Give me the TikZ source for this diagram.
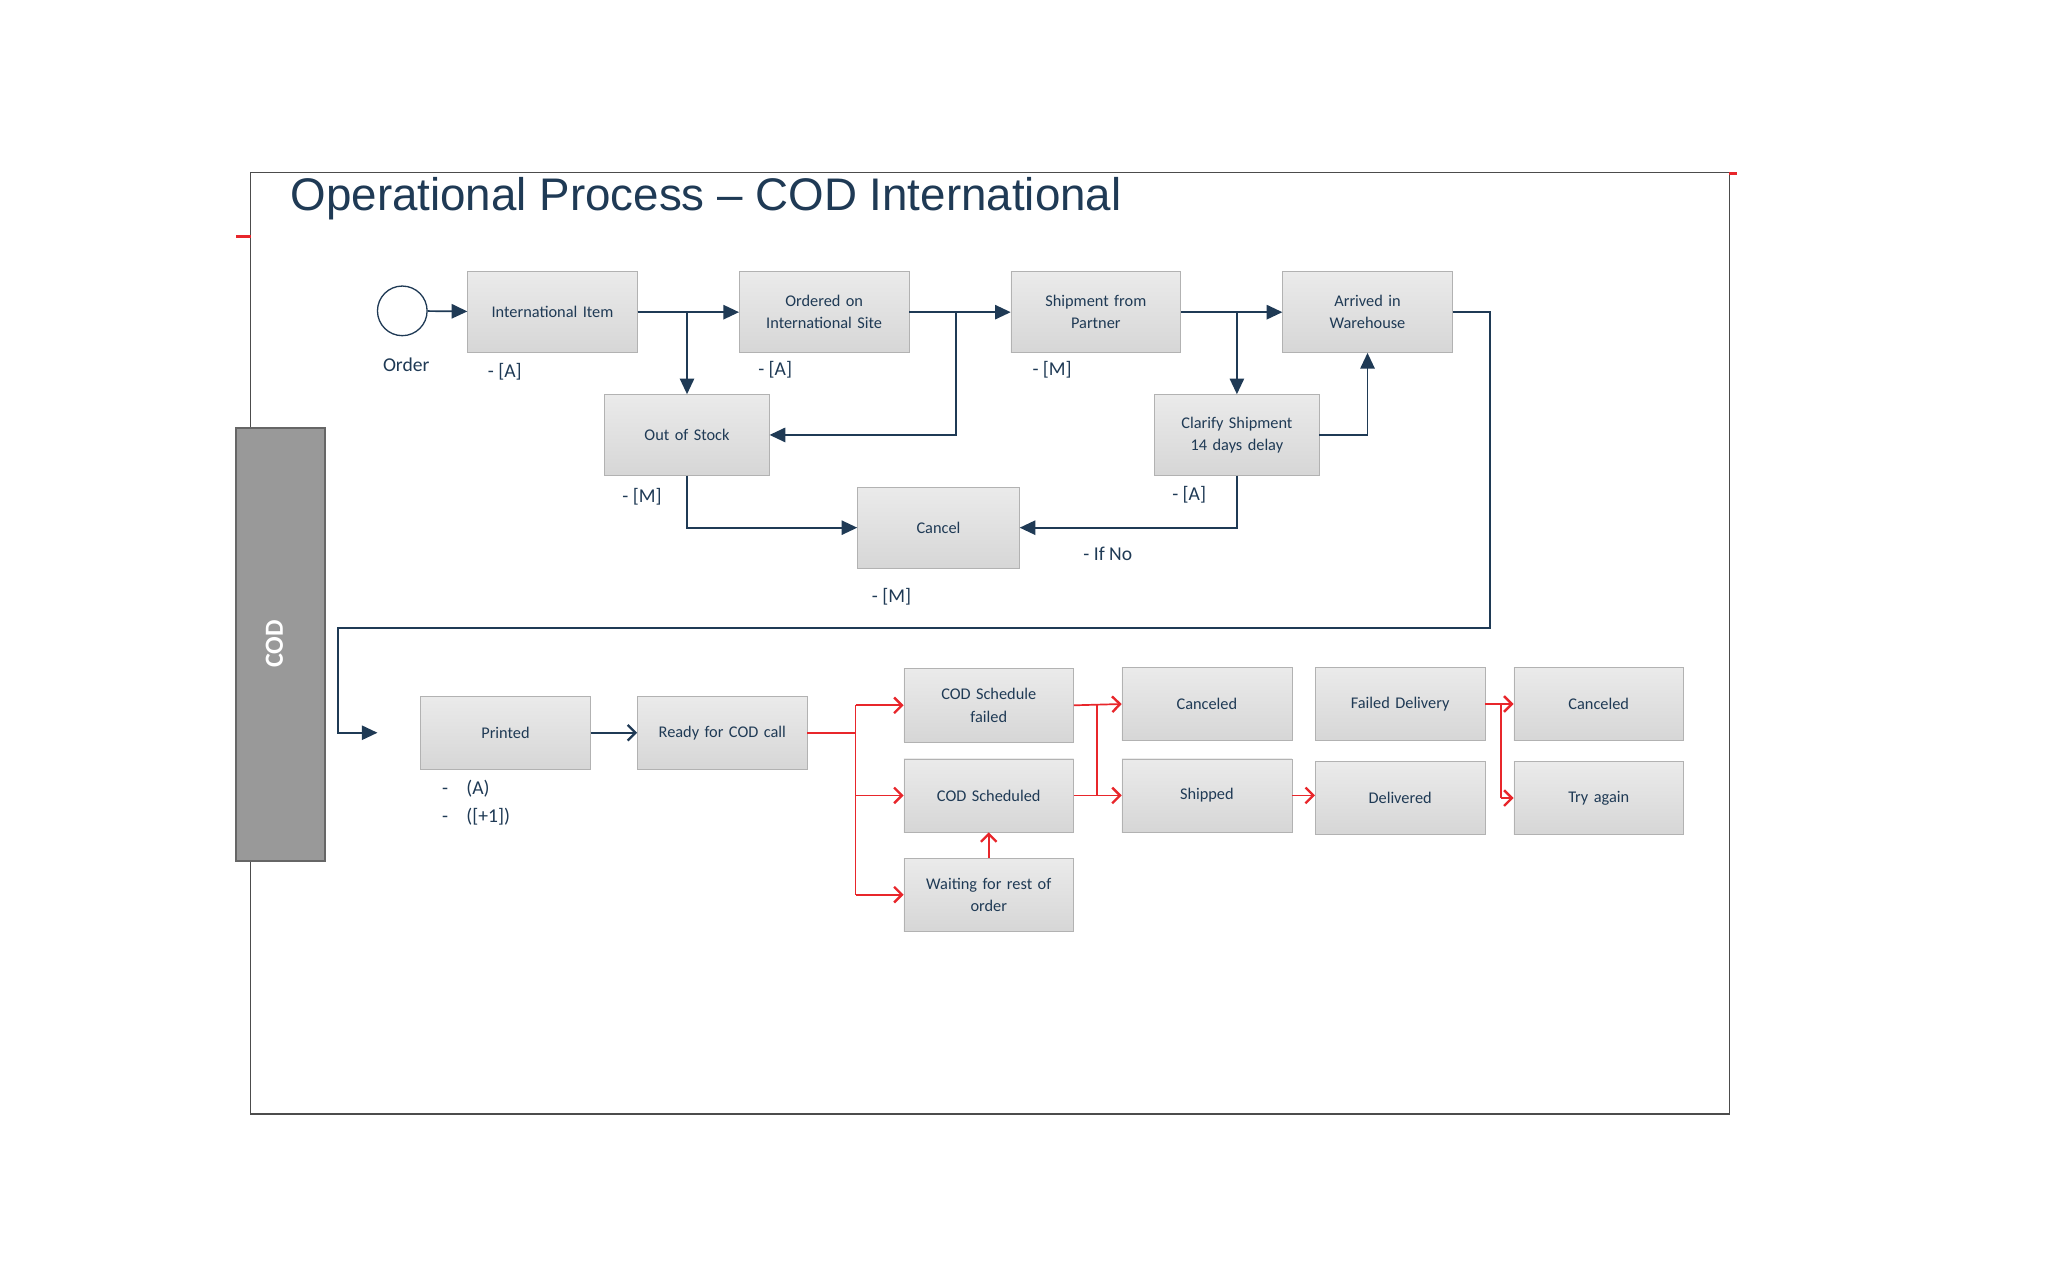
\documentclass[tikz,border=0pt]{standalone}
\usepackage{fontspec}
\setmainfont{Carlito}
\newfontfamily\titlefont{Liberation Sans}
\usetikzlibrary{arrows.meta}
\definecolor{navy}{HTML}{1F3A55}
\definecolor{rd}{HTML}{E8262B}
\begin{document}
\begin{tikzpicture}[x=1pt,y=-1pt,
 box/.style={draw=black!30,top color=black!8,bottom color=black!16,minimum width=130pt,minimum height=#1,inner sep=2pt,align=center,text=navy,font=\fontsize{12.5}{17}\selectfont,text width=120pt},
 box/.default=62pt,
 lbl/.style={text=navy,font=\fontsize{15}{17}\selectfont,anchor=west},
 nv/.style={draw=navy,line width=1.3pt,-{Triangle[length=12pt,width=11pt]}},
 rr/.style={draw=rd,line width=1.3pt,-{Straight Barb[length=6pt,width=12pt,line width=1.8pt]}},
 rl/.style={draw=rd,line width=1.3pt}]
\useasboundingbox (0,0) rectangle (1568,980);
\fill[white] (0,0) rectangle (1568,980);
\draw[black!70,line width=1pt] (192,132) rectangle (1324,853);
\draw[rd,line width=2pt] (181,181) -- (192,181);
\draw[rd,line width=2pt] (1324,133) -- (1330,133);
\node[anchor=west,text=navy,font=\titlefont\fontsize{35}{40}\selectfont] (title) at (219,152) {Operational Process \textendash{} COD International};
\node[draw=black!60,line width=1.5pt,fill=black!40,minimum width=68pt,minimum height=331pt] (cod) at (215,493.5) {};
\node[rotate=90,text=white,font=\bfseries\fontsize{20}{20}\selectfont] (codt) at (210,493) {COD};
% top
\node[draw=navy,line width=1pt,circle,minimum size=38pt,inner sep=0] (start) at (308,238) {};
\node[lbl,anchor=center] (ordl) at (311,279) {Order};
\node[box] (ii) at (423,239) {International Item};
\node[box] (os) at (631,239) {Ordered on\\International Site};
\node[box] (sp) at (839,239) {Shipment from\\Partner};
\node[box] (aw) at (1047,239) {Arrived in\\Warehouse};
\node[box,minimum width=126pt] (oos) at (526,333) {Out of Stock};
\node[box,minimum width=126pt] (cs) at (947,333) {Clarify Shipment\\14 days delay};
\node[box,minimum width=123pt] (can) at (718.5,404) {Cancel};
\node[lbl] (l1) at (370,285) {- [A]};
\node[lbl] (l2) at (577,283) {- [A]};
\node[lbl] (l3) at (787,283) {- [M]};
\node[lbl] (l4) at (473,380) {- [M]};
\node[lbl] (l5) at (894,379) {- [A]};
\node[lbl] (l6) at (826,424) {- If No};
\node[lbl] (l7) at (664,457) {- [M]};
\draw[nv] (start) -- (ii);
\draw[nv] (ii.east) -- (os.west);
\draw[nv] (ii.east) -| (oos.north);
\draw[nv] (os.east) -- (sp.west);
\draw[nv] (732,239) |- (oos.east);
\draw[nv] (sp.east) -- (aw.west);
\draw[nv] (sp.east) -| (cs.north);
\draw[nv] (cs.east) -| (aw.south);
\draw[nv] (oos.south) |- (can.west);
\draw[nv] (cs.south) |- (can.east);
\coordinate (pin) at (289,561);
\draw[nv] (aw.east) -- (1141,239) -- (1141,481) -- (259,481) -- (259,561) -- (pin);
% bottom
\node[box=56pt] (pr) at (387,561) {Printed};
\node[box=56pt] (rc) at (553,561) {Ready for COD call};
\node[box=56pt] (cf) at (757,540) {COD Schedule\\failed};
\node[box=56pt] (cd) at (757,609) {COD Scheduled};
\node[box=56pt] (wr) at (757,685) {Waiting for rest of\\order};
\node[box=56pt] (c1) at (924,539) {Canceled};
\node[box=56pt] (sh) at (924,609) {Shipped};
\node[box=56pt] (fd) at (1072,539) {Failed Delivery};
\node[box=56pt] (dl) at (1072,611) {Delivered};
\node[box=56pt] (c2) at (1224,539) {Canceled};
\node[box=56pt] (ta) at (1224,611) {Try again};
\node[lbl] (p1) at (335,604) {-\hspace{14pt}(A)};
\node[lbl] (p2) at (335,625) {-\hspace{14pt}([+1])};
\draw[navy,line width=1.3pt,-{Straight Barb[length=6pt,width=12pt,line width=1.8pt]}] (pr) -- (rc);
\draw[rl] (rc.east) -- (655,561);
\draw[rr] (655,540) -- (cf.west);
\draw[rl] (655,540) -- (655,685);
\draw[rr] (655,609) -- (cd.west);
\draw[rr] (655,685) -- (wr.west);
\draw[rr] (wr.north) -- (cd.south);
\draw[rr] (cf.east) -- (c1.west);
\draw[rl] (840,539) -- (840,609);
\draw[rr] (cd.east) -- (sh.west);
\draw[rr] (sh.east) -- (sh.east -| dl.west);
\draw[rr] (fd.east) -- (c2.west);
\draw[rl] (1149,539) -- (1149,611);
\draw[rr] (1149,611) -- (ta.west);
\end{tikzpicture}
\end{document}
